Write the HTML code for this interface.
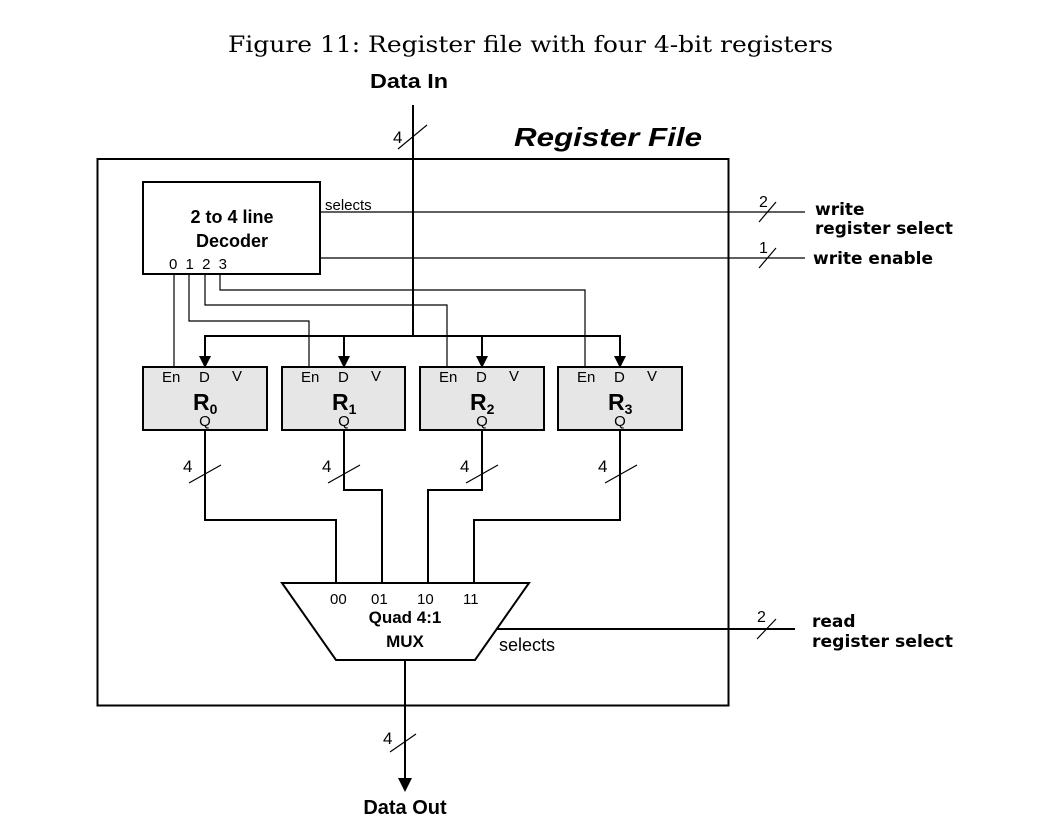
<!DOCTYPE html>
<html><head><meta charset="utf-8"><style>
html,body{margin:0;padding:0;background:#fff;}
svg{display:block;}
.s{font-family:"Liberation Sans",Arial,sans-serif;}
.d{font-family:"DejaVu Sans",sans-serif;font-weight:bold;}
</style></head><body>
<svg width="1060" height="838" viewBox="0 0 1060 838" xmlns="http://www.w3.org/2000/svg">
<text x="228" y="52" textLength="605" lengthAdjust="spacingAndGlyphs" font-family="DejaVu Serif,serif" font-size="22">Figure 11: Register file with four 4-bit registers</text>
<text x="370" y="88" textLength="78" lengthAdjust="spacingAndGlyphs" class="s" font-weight="bold" font-size="20">Data In</text>
<text x="514" y="146" textLength="188" lengthAdjust="spacingAndGlyphs" class="s" font-weight="bold" font-style="italic" font-size="26">Register File</text>
<rect x="97.5" y="159" width="631" height="546.5" fill="none" stroke="#000" stroke-width="2"/>
<g stroke="#000" fill="none">
<line x1="413" y1="105" x2="413" y2="336" stroke-width="2"/>
<line x1="398" y1="149" x2="427" y2="125" stroke-width="1.2"/>
<line x1="204" y1="336" x2="621" y2="336" stroke-width="2"/>
<line x1="205" y1="336" x2="205" y2="358" stroke-width="2"/>
<line x1="344" y1="336" x2="344" y2="358" stroke-width="2"/>
<line x1="482" y1="336" x2="482" y2="358" stroke-width="2"/>
<line x1="620" y1="336" x2="620" y2="358" stroke-width="2"/>
<rect x="143" y="182" width="177" height="92" fill="#fff" stroke-width="2"/>
<line x1="320" y1="212" x2="805" y2="212" stroke-width="1.3"/>
<line x1="320" y1="258" x2="805" y2="258" stroke-width="1.3"/>
<line x1="759" y1="222" x2="776" y2="202" stroke-width="1.2"/>
<line x1="759" y1="268" x2="776" y2="248" stroke-width="1.2"/>
<polyline points="174,274 174,366" stroke-width="1.2"/>
<polyline points="189,274 189,321 309,321 309,366" stroke-width="1.2"/>
<polyline points="205,274 205,305 447,305 447,366" stroke-width="1.2"/>
<polyline points="220,274 220,290 585,290 585,366" stroke-width="1.2"/>
<rect x="143" y="367" width="124" height="63" fill="#e6e6e6" stroke-width="2"/>
<rect x="282" y="367" width="123" height="63" fill="#e6e6e6" stroke-width="2"/>
<rect x="420" y="367" width="124" height="63" fill="#e6e6e6" stroke-width="2"/>
<rect x="558" y="367" width="124" height="63" fill="#e6e6e6" stroke-width="2"/>
<polyline points="205,430 205,520 336,520 336,583" stroke-width="2"/>
<polyline points="344,430 344,490 382,490 382,583" stroke-width="2"/>
<polyline points="482,430 482,490 428,490 428,583" stroke-width="2"/>
<polyline points="620,430 620,520 474,520 474,583" stroke-width="2"/>
<line x1="189" y1="483" x2="221" y2="465" stroke-width="1.2"/>
<line x1="328" y1="483" x2="360" y2="465" stroke-width="1.2"/>
<line x1="466" y1="483" x2="498" y2="465" stroke-width="1.2"/>
<line x1="605" y1="483" x2="637" y2="465" stroke-width="1.2"/>
<polygon points="282,583 529,583 475,660 336,660" fill="#fff" stroke-width="2"/>
<line x1="497" y1="629" x2="795" y2="629" stroke-width="2"/>
<line x1="757" y1="639" x2="776" y2="619" stroke-width="1.2"/>
<line x1="405" y1="660" x2="405" y2="780" stroke-width="2"/>
<line x1="390" y1="752" x2="416" y2="734" stroke-width="1.2"/>
</g>
<g fill="#000">
<polygon points="199,356 211,356 205,368"/>
<polygon points="338,356 350,356 344,368"/>
<polygon points="476,356 488,356 482,368"/>
<polygon points="614,356 626,356 620,368"/>
<polygon points="398,778 412,778 405,792"/>
</g>
<g class="s" font-size="17">
<text x="393" y="143">4</text>
<text x="232" y="223" text-anchor="middle" font-weight="bold" font-size="18">2 to 4 line</text>
<text x="232" y="247" text-anchor="middle" font-weight="bold" font-size="18">Decoder</text>
<text x="169" y="269" font-size="15" textLength="58" lengthAdjust="spacing">0 1 2 3</text>
<text x="325" y="210" font-size="15">selects</text>
<text x="759" y="207" font-size="16">2</text>
<text x="759" y="253" font-size="16">1</text>
<text x="183" y="472">4</text><text x="322" y="472">4</text><text x="460" y="472">4</text><text x="598" y="472">4</text>
<text x="757" y="622" font-size="16">2</text>
<text x="383" y="744">4</text>
<text x="499" y="651" font-size="18">selects</text>
<text x="330" y="604" font-size="15">00</text><text x="371" y="604" font-size="15">01</text><text x="417" y="604" font-size="15">10</text><text x="463" y="604" font-size="15">11</text>
<text x="405" y="623" text-anchor="middle" font-weight="bold" font-size="17">Quad 4:1</text>
<text x="405" y="647" text-anchor="middle" font-weight="bold" font-size="17">MUX</text>
<text x="405" y="814" text-anchor="middle" font-weight="bold" font-size="20">Data Out</text>
</g>
<g class="s" font-size="15">
<text x="162" y="382">En</text><text x="199" y="382">D</text><text x="232" y="381">V</text>
<text x="301" y="382">En</text><text x="338" y="382">D</text><text x="371" y="381">V</text>
<text x="439" y="382">En</text><text x="476" y="382">D</text><text x="509" y="381">V</text>
<text x="577" y="382">En</text><text x="614" y="382">D</text><text x="647" y="381">V</text>
<text x="205" y="426" text-anchor="middle">Q</text><text x="344" y="426" text-anchor="middle">Q</text><text x="482" y="426" text-anchor="middle">Q</text><text x="620" y="426" text-anchor="middle">Q</text>
<text x="193" y="410" font-weight="bold" font-size="23">R<tspan font-size="14" dy="4">0</tspan></text>
<text x="332" y="410" font-weight="bold" font-size="23">R<tspan font-size="14" dy="4">1</tspan></text>
<text x="470" y="410" font-weight="bold" font-size="23">R<tspan font-size="14" dy="4">2</tspan></text>
<text x="608" y="410" font-weight="bold" font-size="23">R<tspan font-size="14" dy="4">3</tspan></text>
</g>
<g class="d" font-size="17">
<text x="815" y="215">write</text>
<text x="815" y="234" textLength="138" lengthAdjust="spacingAndGlyphs">register select</text>
<text x="813" y="264" textLength="120" lengthAdjust="spacingAndGlyphs">write enable</text>
<text x="812" y="627">read</text>
<text x="812" y="647" textLength="141" lengthAdjust="spacingAndGlyphs">register select</text>
</g>
</svg>
</body></html>
